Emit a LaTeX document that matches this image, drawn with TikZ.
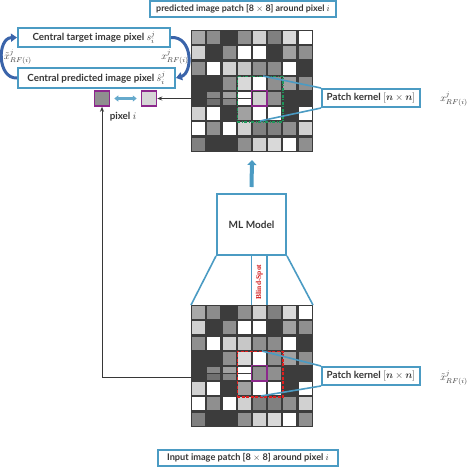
\documentclass[tikz,border=0pt]{standalone}
\usepackage{amsmath}
\usepackage{bm}
\usepackage[no-math]{fontspec}
\setmainfont{Lato}
\newfontfamily\bsfont{Liberation Serif}
\usetikzlibrary{arrows.meta,calc}
\definecolor{boxblue}{RGB}{75,155,195}
\definecolor{arcblue}{RGB}{58,100,170}
\definecolor{txt}{RGB}{55,55,55}
\definecolor{gridbg}{RGB}{60,60,60}
\definecolor{pixpurple}{RGB}{140,40,140}
\definecolor{kgreen}{RGB}{30,150,90}
\definecolor{kred}{RGB}{225,30,30}
\definecolor{bsred}{RGB}{210,30,30}
\tikzset{
  bluebox/.style={draw=boxblue, line width=2pt, fill=white, inner sep=0pt, text=txt, font=\fontsize{9.8}{11}\selectfont\bfseries},
  blueline/.style={draw=boxblue, line width=1.6pt},
  pixsq/.style={draw=pixpurple, line width=1.5pt, minimum size=15pt, inner sep=0pt},
  curvarrow/.style={draw=arcblue, line width=3pt, -{Triangle[length=6pt,width=8pt]}},
  dblarrow/.style={draw=boxblue!85, line width=2.5pt, {Triangle[length=4pt,width=6pt]}-{Triangle[length=4pt,width=6pt]}},
  bigarrow/.style={draw=boxblue, line width=4pt, -{Triangle[length=5pt,width=9pt]}},
  blk/.style={draw=txt, line width=1pt, -{Stealth[length=5pt,width=4pt]}},
  lbl/.style={inner sep=0pt, text=txt, font=\fontsize{9.8}{11}\selectfont\bfseries},
  mlbl/.style={inner sep=0pt, text=txt, font=\fontsize{10}{11}\selectfont},
}
\newcommand\mygrid[3]{%
  \fill[gridbg] (#1,#2) rectangle ++(121.6,121.6);
  \foreach \c/\r/\v in {1/1/66,2/1/55,4/1/56,5/1/82,6/1/50,7/1/85,8/1/100,
    1/2/82,3/2/56,4/2/100,5/2/100,7/2/63,8/2/56,
    1/3/56,2/3/100,3/3/82,4/3/78,5/3/56,6/3/55,7/3/100,
    3/4/56,4/4/85,5/4/100,6/4/56,7/4/63,8/4/56,
    6/5/56,5/5/#3,
    1/6/82,2/6/100,4/6/63,5/6/100,6/6/100,8/6/100,
    1/7/100,2/7/56,3/7/100,4/7/82,5/7/50,6/7/50,7/7/56,8/7/82,
    1/8/50,4/8/56,5/8/82,6/8/85,7/8/100,8/8/56}{
    \fill[white!\v!black] ({#1+(\c-1)*15.2+1.1},{#2+(\r-1)*15.2+1.1}) rectangle ++(13,13);
  }
  \foreach \c/\t/\b in {2/53/44,3/63/53,4/100/100}{
    \fill[white!\t!black] ({#1+(\c-1)*15.2+1.1},{#2+4*15.2+1.1}) rectangle ++(13,5.8);
    \fill[white!\b!black] ({#1+(\c-1)*15.2+1.1},{#2+4*15.2+8.3}) rectangle ++(13,5.8);
  }
  \draw[pixpurple, line width=1.2pt] ({#1+4*15.2},{#2+4*15.2}) rectangle ++(15.2,15.2);
}
\begin{document}
\begin{tikzpicture}[x=1pt,y=-1pt]
\useasboundingbox (0,0) rectangle (474,467);

% grids
\mygrid{191}{30}{82}
\mygrid{191}{305}{56}
\node[inner sep=0pt, minimum size=121.6pt, anchor=north west] (G1) at (191,30) {};
\node[inner sep=0pt, minimum size=121.6pt, anchor=north west] (G2) at (191,305) {};
\node[draw=kgreen, line width=1.5pt, dash pattern=on 3pt off 1.5pt on 1pt off 1.5pt, inner sep=0pt, minimum size=45.6pt, anchor=north west] (K1) at (236.6,75.6) {};
\node[draw=kred, line width=1.5pt, dash pattern=on 3pt off 1.5pt, inner sep=0pt, minimum size=45.6pt, anchor=north west] (K2) at (236.6,350.6) {};

% boxes
\node[bluebox, minimum width=186pt, minimum height=16.5pt, font=\fontsize{8.9}{10}\selectfont\bfseries] (title) at (243,8.8) {predicted image patch [8 $\times$ 8] around pixel $i$};
\node[bluebox, minimum width=152pt, minimum height=19pt] (tgt) at (94,37.5) {Central target image pixel $s_i^j$};
\node[bluebox, minimum width=157pt, minimum height=20pt] (prd) at (96.5,78) {Central predicted image pixel $\hat{s}_i^j$};
\node[bluebox, minimum width=98pt, minimum height=18pt] (pk1) at (371,98) {Patch kernel $[\bm{n}\times\bm{n}]$};
\node[bluebox, minimum width=98pt, minimum height=18pt] (pk2) at (371,376) {Patch kernel $[\bm{n}\times\bm{n}]$};
\node[bluebox, minimum width=69pt, minimum height=61pt, font=\fontsize{10}{11}\selectfont\bfseries] (ml) at (251.5,224.5) {ML Model};
\node[bluebox, minimum width=180pt, minimum height=16pt, font=\fontsize{9.2}{10}\selectfont\bfseries] (inp) at (248,458) {Input image patch [8 $\times$ 8] around pixel $i$};

% pixels
\node[pixsq, fill=white!56!black] (pl) at (102,98.5) {};
\node[pixsq, fill=white!84!black] (pr) at (149,98.5) {};
\node[lbl] (pixlbl) at (123,117) {pixel $i$};

% labels
\node[mlbl] (lx1) at (18,57) {$\tilde{x}^{j}_{RF(i)}$};
\node[mlbl] (lx2) at (175,57) {$x^{j}_{RF(i)}$};
\node[mlbl] (rx1) at (454,99) {$x^{j}_{RF(i)}$};
\node[mlbl] (rx2) at (454,378) {$\tilde{x}^{j}_{RF(i)}$};

% curved arrows
\draw[curvarrow] (prd.west) .. controls (-3,79) and (-3,38) .. (tgt.west);
\draw[curvarrow] (tgt.east) .. controls (193,36) and (193,73) .. (prd.east);

% pixel arrows
\draw[dblarrow, shorten <=4pt, shorten >=4pt] (pl.east) -- (pr.west);
\draw[blk] (G1.west |- pr.east) -- (pr.east);
\coordinate (g2out) at (191,377);
\draw[blk] (g2out) -| (pl.south);

% ML model connections
\draw[bigarrow] ($(ml.north)+(0,-6)$) -- ($(G1.south)+(0,8)$);
\draw[blueline] (ml.south west) -- (G2.north west);
\draw[blueline] (ml.south east) -- (G2.north east);
\coordinate (bs1) at (251.8,305);
\coordinate (bs2) at (267,305);
\draw[blueline, line width=1.3pt] (bs1 |- ml.south) -- (bs1);
\draw[blueline, line width=1.3pt] (bs2 |- ml.south) -- (bs2);
\node[rotate=90, inner sep=0pt, text=bsred, font=\fontsize{7.5}{8}\selectfont\bsfont\bfseries] (bs) at (259.4,282) {Blind-Spot};

% kernel connectors
\coordinate (k1a) at (263,76);
\coordinate (k1b) at (260,121);
\coordinate (k2a) at (262,351);
\coordinate (k2b) at (261,396);
\draw[blueline] (k1a) -- (pk1.north west);
\draw[blueline] (k1b) -- (pk1.south west);
\draw[blueline] (k2a) -- (pk2.north west);
\draw[blueline] (k2b) -- (pk2.south west);
\end{tikzpicture}
\end{document}
